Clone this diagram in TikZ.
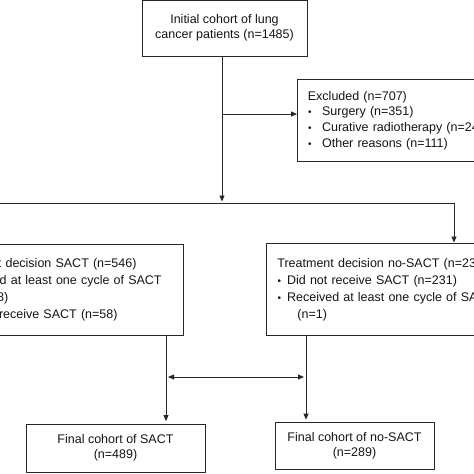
\documentclass[tikz,border=0pt]{standalone}
\usepackage{fontspec}
\setmainfont{Liberation Sans}
\usepackage{tikz}
\usetikzlibrary{arrows.meta, positioning}
\definecolor{flowline}{RGB}{40,40,40}
\definecolor{flowtext}{RGB}{20,20,20}

% small bullet used in the lists
\newcommand{\dmd}{{\fontsize{10}{10}\selectfont\textbullet}}
\newcommand{\bul}[1]{\makebox[#1][l]{\hspace{0.3pt}\dmd}}

\tikzset{
  box/.style={draw=flowline, line width=0.8pt, rectangle, inner ysep=0pt,
              text=flowtext, font=\fontsize{12.5}{15}\selectfont},
  listbox/.style={box, anchor=north west, align=left, inner xsep=11pt},
  arrow/.style={draw=flowline, line width=0.8pt,
                -{Triangle[length=6pt,width=5pt]}},
  plain/.style={draw=flowline, line width=0.8pt}
}

\begin{document}
\begin{tikzpicture}[x=1pt, y=-1pt]
\useasboundingbox (0,0) rectangle (474,474);
\clip (0,0) rectangle (474,474);

% --- Top: initial cohort and exclusions ---
\node[box, align=center, minimum width=165pt, minimum height=55.5pt]
     (init) at (224.5,28.25) {Initial cohort of lung\\cancer patients (n=1485)};

\node[listbox, text width=184pt, minimum width=205pt, minimum height=82pt,
      font=\fontsize{12.5}{15.7}\selectfont, inner xsep=10.5pt]
     (excl) at (297,79)
     {Excluded (n=707)\\
      \bul{14.2pt}Surgery (n=351)\\
      \bul{14.2pt}Curative radiotherapy (n=245)\\
      \bul{14.2pt}Other reasons (n=111)};

% --- Middle: treatment decisions ---
\node[listbox, text width=227.5pt, minimum width=249.5pt, minimum height=91pt,
      font=\fontsize{12.5}{17}\selectfont]
     (sact) at (-66.5,244)
     {Treatment decision SACT (n=546)\\
      \bul{9.7pt}Received at least one cycle of SACT\\
      \hspace*{20pt}(n=488)\\
      \bul{9.7pt}Did not receive SACT (n=58)};

\node[listbox, text width=227pt, minimum width=249pt, minimum height=92pt,
      font=\fontsize{12.5}{17}\selectfont]
     (nosact) at (266,243)
     {Treatment decision no-SACT (n=232)\\
      \bul{9.7pt}Did not receive SACT (n=231)\\
      \bul{9.7pt}Received at least one cycle of SACT\\
      \hspace*{20pt}(n=1)};

% --- Bottom: final cohorts ---
\node[box, align=center, minimum width=179pt, minimum height=48.5pt]
     (finS) at (115.5,448.25) {Final cohort of SACT\\(n=489)};
\node[box, align=center, minimum width=159pt, minimum height=47pt]
     (finN) at (354.5,445.5) {Final cohort of no-SACT\\(n=289)};

% Connectors
\coordinate (split)  at (222,203);
\coordinate (branch) at (222,114);
\coordinate (tapL)   at (-20,203);
\coordinate (tapR)   at (454,203);
\coordinate (dropL)  at (166,377);
\coordinate (dropR)  at (306,377);

\draw[arrow, shorten >=1.5pt] (init.south -| split) -- (split);
\draw[arrow] (branch) -- (branch -| excl.west);
\draw[plain] (tapL) -- (tapR);
\draw[arrow, shorten >=0.5pt] (tapR) -- (tapR |- nosact.north);
\draw[arrow, shorten >=0.5pt] (tapL) -- (tapL |- sact.north);

\draw[arrow, shorten >=2.5pt] (dropL |- sact.south) -- (dropL |- finS.north);
\draw[arrow, shorten >=2pt] (dropR |- nosact.south) -- (dropR |- finN.north);
\draw[arrow, {Triangle[length=6pt,width=5pt]}-{Triangle[length=6pt,width=5pt]},
      shorten <=2pt, shorten >=2pt] (dropL) -- (dropR);

\end{tikzpicture}
\end{document}
